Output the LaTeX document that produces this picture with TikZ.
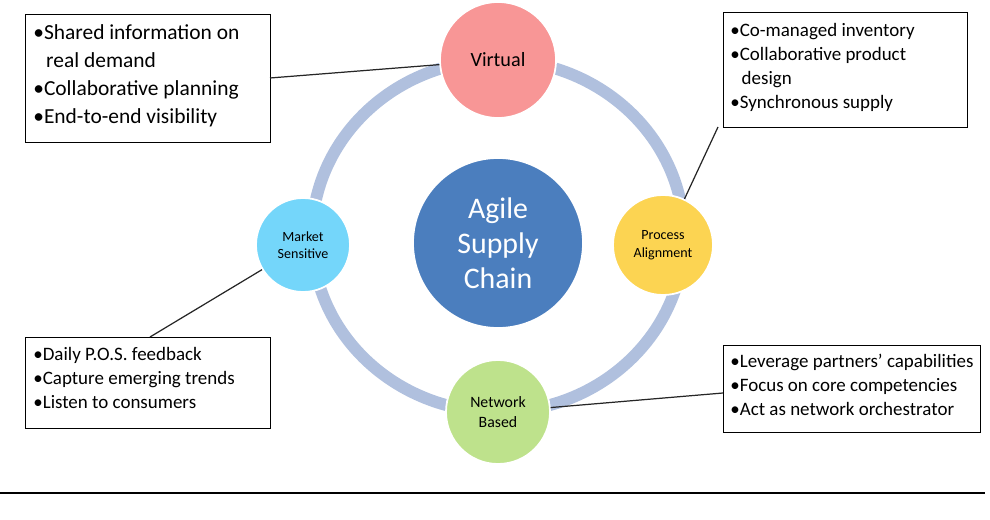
\documentclass[tikz,border=0pt]{standalone}
\usepackage{fontspec}
\setmainfont{Carlito}
\begin{document}
\begin{tikzpicture}[x=0.02cm,y=-0.02cm,
 sat/.style={circle,draw=white,line width=1pt,inner sep=0pt,align=center},
 box/.style={draw=black,line width=0.8pt,fill=white,anchor=north west,inner sep=0pt},
 txt/.style={align=left,anchor=north west,inner sep=0pt,font=\fontsize{10.8}{13.6}\selectfont},
 conn/.style={draw=black!85,line width=0.7pt}]
\useasboundingbox (0,0) rectangle (990,520);
\draw[line width=12pt*0.567,color={rgb,255:red,176;green,192;blue,222}] (498,236) ellipse (186 and 176);
\node[sat,fill={rgb,255:red,75;green,126;blue,190},minimum size=170*0.02cm,text=white,font=\fontsize{17}{20}\selectfont] (c) at (498,243) {Agile\\Supply\\Chain};
\node[sat,fill={rgb,255:red,248;green,150;blue,150},minimum size=116*0.02cm,font=\fontsize{11.5}{13}\selectfont] (v) at (498,60) {Virtual};
\node[sat,fill={rgb,255:red,116;green,214;blue,250},minimum size=94*0.02cm,font=\fontsize{8}{10}\selectfont] (m) at (303,245) {Market\\Sensitive};
\node[sat,fill={rgb,255:red,252;green,212;blue,82},minimum size=100*0.02cm,font=\fontsize{8}{10}\selectfont] (p) at (663,245) {Process\\Alignment};
\node[sat,fill={rgb,255:red,190;green,226;blue,140},minimum size=104*0.02cm,font=\fontsize{9}{11}\selectfont] (n) at (498,412) {Network\\Based};
\node[box,minimum width=245*0.02cm,minimum height=128*0.02cm] (b1) at (25,14) {};
\node[txt,font=\fontsize{12.2}{16}\selectfont] (t1) at (33,24) {•Shared information on\\\hspace*{0.6em}real demand\\•Collaborative planning\\•End-to-end visibility};
\node[box,minimum width=244*0.02cm,minimum height=115*0.02cm] (b2) at (723,12) {};
\node[txt] (t2) at (730,23) {•Co-managed inventory\\•Collaborative product\\\hspace*{0.6em}design\\•Synchronous supply};
\node[box,minimum width=245*0.02cm,minimum height=91*0.02cm] (b3) at (25,337) {};
\node[txt] (t3) at (33,347) {•Daily P.O.S. feedback\\•Capture emerging trends\\•Listen to consumers};
\node[box,minimum width=257*0.02cm,minimum height=87*0.02cm] (b4) at (723,345) {};
\node[txt] (t4) at (730,354) {•Leverage partners' capabilities\\•Focus on core competencies\\•Act as network orchestrator};
\coordinate (k1) at (270,78);
\coordinate (k2) at (718,127);
\coordinate (k3) at (150,337);
\coordinate (k4) at (723,393);
\draw[conn] (k1) -- (v);
\draw[conn] (k2) -- (p);
\draw[conn] (k3) -- (m);
\draw[conn] (k4) -- (n);
\coordinate (l1) at (0,493);
\coordinate (l2) at (985,493);
\draw[line width=1.2pt] (l1) -- (l2);
\end{tikzpicture}
\end{document}
